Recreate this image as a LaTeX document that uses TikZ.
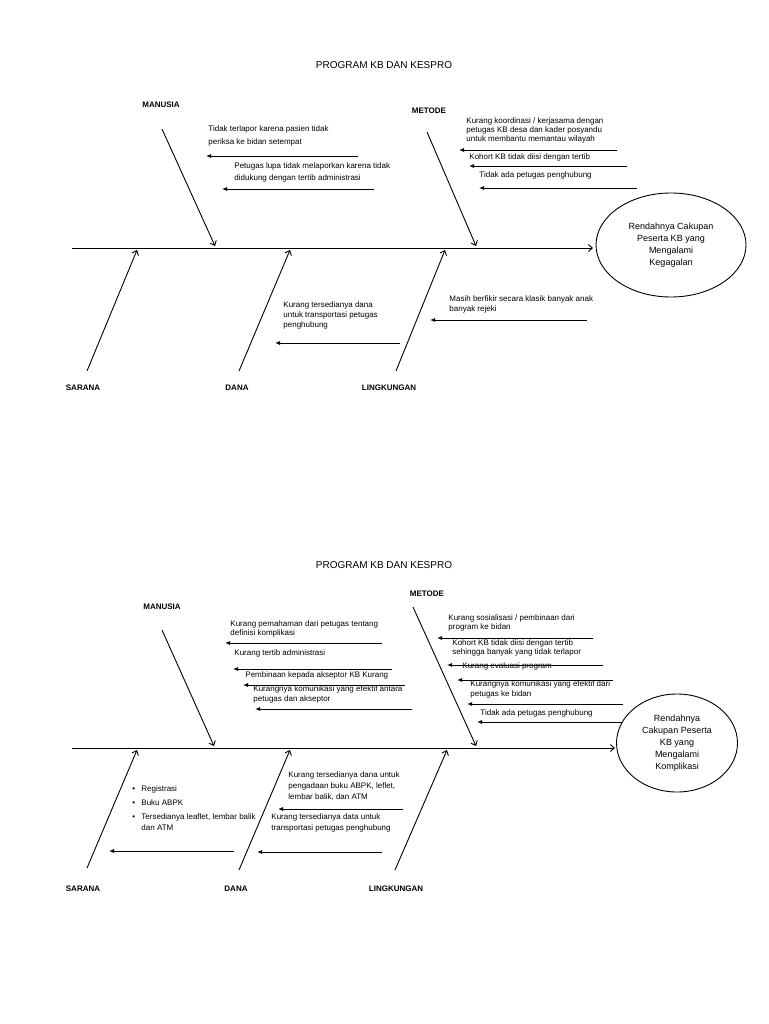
\documentclass[tikz,border=0pt]{standalone}
\usepackage{fontspec}
\setmainfont{Liberation Sans}
\usetikzlibrary{arrows.meta,shapes.geometric}
\begin{document}
\begin{tikzpicture}[x=1pt,y=-1pt,line width=.9pt,
  heading/.style={font=\fontsize{10}{12}\selectfont},
  bonelabel/.style={font=\bfseries\fontsize{8}{10}\selectfont},
  causetext/.style={anchor=north west,inner sep=0pt,align=left,font=\fontsize{8}{#1}\selectfont},
  causetext/.default=10,
  effect/.style={draw,ellipse,align=center,inner sep=0pt,font=\fontsize{9}{12}\selectfont},
  bone/.style={-{Straight Barb[length=4pt,width=7pt]}},
  causearrow/.style={-{Latex[length=5pt,width=4pt]}}]
\useasboundingbox (0,0) rectangle (768,1024);
%%%% first diagram
\node[heading] (titleA) at (384,65) {PROGRAM KB DAN KESPRO};
\coordinate (tailA) at (72,248);
\coordinate (headA) at (593,248);
\draw[bone] (tailA) -- (headA);
\node[effect,minimum width=150pt,minimum height=104pt] (effectA) at (671,245)
  {Rendahnya Cakupan\\Peserta KB yang\\Mengalami\\Kegagalan};
\foreach \nm/\txt/\lx/\ly/\ax/\ay/\bx/\by in {
  manA/MANUSIA/161/105/162/129/215/246,
  metA/METODE/429/111/427/132/476/246,
  sarA/SARANA/83/388/87/371/137/250,
  danA/DANA/237/388/239/371/290/250,
  linA/LINGKUNGAN/389/388/396/371/445/250}
{
  \node[bonelabel] (\nm) at (\lx,\ly) {\txt};
  \coordinate (\nm-s) at (\ax,\ay);
  \coordinate (\nm-e) at (\bx,\by);
  \draw[bone] (\nm-s) -- (\nm-e);
}
\node[causetext=13.5] (manA1) at (208,125) {Tidak terlapor karena pasien tidak\\periksa ke bidan setempat};
\node[causetext=12] (manA2) at (234,162) {Petugas lupa tidak melaporkan karena tidak\\didukung dengan tertib administrasi};
\node[causetext=9.3] (metA1) at (466,117) {Kurang koordinasi / kerjasama dengan\\petugas KB desa dan kader posyandu\\untuk membantu memantau wilayah};
\node[causetext] (metA2) at (469,153) {Kohort KB tidak diisi dengan tertib};
\node[causetext] (metA3) at (479,171) {Tidak ada petugas penghubung};
\node[causetext] (danA1) at (283,301) {Kurang tersedianya dana\\untuk transportasi petugas\\penghubung};
\node[causetext=10.5] (linA1) at (449,295) {Masih berfikir secara klasik banyak anak\\banyak rejeki};
\foreach \xa/\xb/\y [count=\i] in {358/206/156,374/222/189,617/459/150,627/469/166,
  637/479/188,400/275/343,587/430/320}
{
  \coordinate (cA\i-r) at (\xa,\y);
  \coordinate (cA\i-l) at (\xb,\y);
  \draw[causearrow] (cA\i-r) -- (cA\i-l);
}
%%%% second diagram
\node[heading] (titleB) at (384,565) {PROGRAM KB DAN KESPRO};
\coordinate (tailB) at (72,748);
\coordinate (headB) at (615,748);
\draw[bone] (tailB) -- (headB);
\node[effect,minimum width=121pt,minimum height=98pt] (effectB) at (677,743)
  {Rendahnya\\Cakupan Peserta\\KB yang\\Mengalami\\Komplikasi};
\foreach \nm/\txt/\lx/\ly/\ax/\ay/\bx/\by in {
  manB/MANUSIA/162/607/162/630/214/746,
  metB/METODE/427/594/413/607/476/746,
  sarB/SARANA/83/889/87/868/137/750,
  danB/DANA/236/889/239/870/290/750,
  linB/LINGKUNGAN/396/889/395/870/447/750}
{
  \node[bonelabel] (\nm) at (\lx,\ly) {\txt};
  \coordinate (\nm-s) at (\ax,\ay);
  \coordinate (\nm-e) at (\bx,\by);
  \draw[bone] (\nm-s) -- (\nm-e);
}
\node[causetext=9] (manB1) at (230,620) {Kurang pemahaman dari petugas tentang\\definisi komplikasi};
\node[causetext] (manB2) at (234,649) {Kurang tertib administrasi};
\node[causetext] (manB3) at (245,671) {Pembinaan kepada akseptor KB Kurang};
\node[causetext] (manB4) at (253,685) {Kurangnya komunikasi yang efektif antara\\petugas dan akseptor};
\node[causetext=9] (metB1) at (448,614) {Kurang sosialisasi / pembinaan dari\\program ke bidan};
\node[causetext=9] (metB2) at (452,639) {Kohort KB tidak diisi dengan tertib\\sehingga banyak yang tidak terlapor};
\node[causetext] (metB3) at (462,662) {Kurang evaluasi program};
\node[causetext] (metB4) at (470,680) {Kurangnya komunikasi yang efektif dari\\petugas ke bidan};
\node[causetext] (metB5) at (480,709) {Tidak ada petugas penghubung};
\node[causetext=11.3] (danB1) at (288,771) {Kurang tersedianya dana untuk\\pengadaan buku ABPK, leflet,\\lembar balik, dan ATM};
\node[causetext=11] (danB2) at (271,813) {Kurang tersedianya data untuk\\transportasi petugas penghubung};
\node[causetext=14] (sarB1) at (132,785) {\makebox[9pt][l]{\textbullet}Registrasi\\
  \makebox[9pt][l]{\textbullet}Buku ABPK\\
  \makebox[9pt][l]{\textbullet}Tersedianya leaflet, lembar balik\\[-3pt]
  \makebox[9pt][l]{}dan ATM};
\foreach \xa/\xb/\y [count=\i] in {382/225/643,392/233/669,405/243/685,412/255/709,
  593/437/638,603/447/665,613/457/680,623/467/704,622/477/722,
  403/278/809,382/257/852,234/109/851}
{
  \coordinate (cB\i-r) at (\xa,\y);
  \coordinate (cB\i-l) at (\xb,\y);
  \draw[causearrow] (cB\i-r) -- (cB\i-l);
}
\end{tikzpicture}
\end{document}
